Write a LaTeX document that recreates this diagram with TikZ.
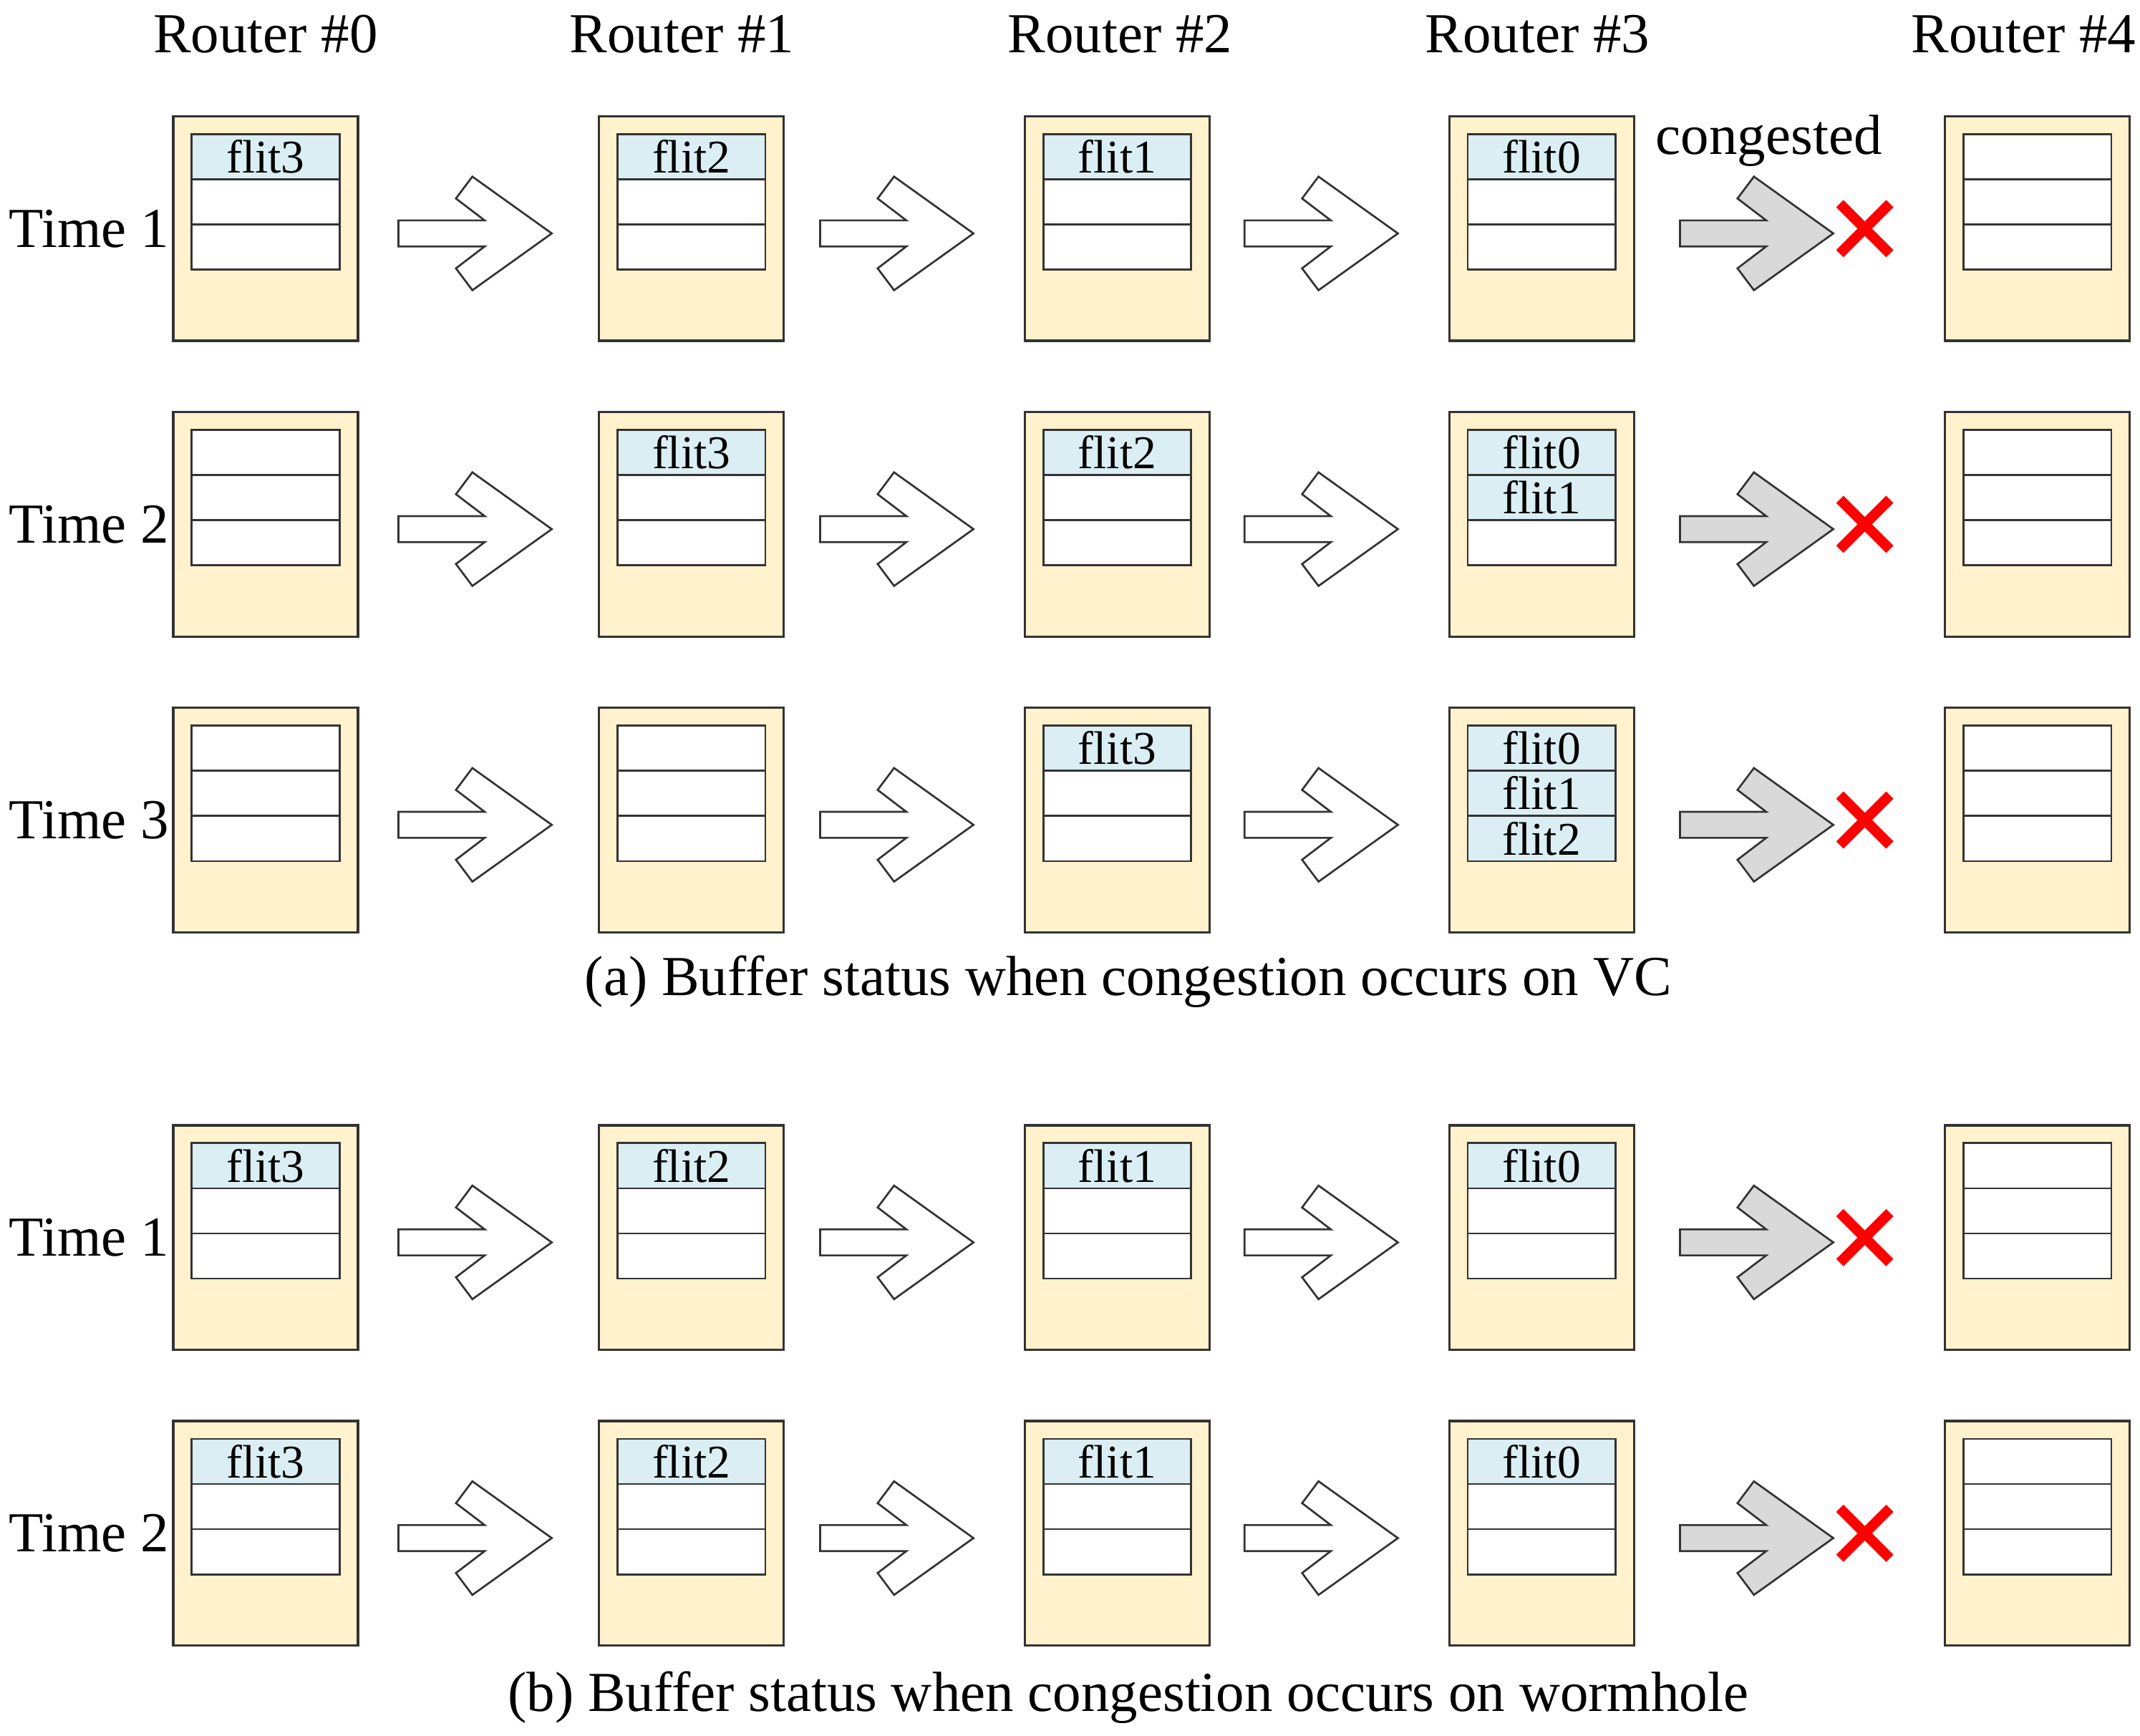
\documentclass[tikz,border=0pt]{standalone}
\usepackage{fontspec}
\setmainfont{Liberation Serif}
\usetikzlibrary{positioning, shapes.misc}
\definecolor{routerfill}{HTML}{FFF2CC}
\definecolor{flitfill}{HTML}{DAEEF3}
\definecolor{arrowgray}{HTML}{D9D9D9}
\tikzset{
	router/.style={
		draw=black!80, line width=1pt, fill=routerfill,
		minimum width=2.7cm, minimum height=3.28cm, inner sep=0pt
	},
	slot/.style={
		draw=black!80, line width=0.8pt, fill=white,
		minimum width=2.16cm, minimum height=0.66cm, inner sep=0pt,
		font=\fontsize{19.5}{21}\selectfont
	},
	flit/.style={slot, fill=flitfill},
	hop/.pic={
		\draw[line width=0.8pt, draw=black!80, fill=#1, line join=miter]
			(0,-9.5) -- (63,-9.5) -- (42,-25.5) -- (54,-41.5) -- (112,0)
			-- (54,41.5) -- (42,25.5) -- (63,9.5) -- (0,9.5) -- cycle;
	},
	stop/.style={cross out, draw=red, line width=0.15cm, minimum size=0.58cm, inner sep=0pt},
	labe/.style={font=\fontsize{23.5}{27}\selectfont}
}
\begin{document}
\begin{tikzpicture}[x=0.02cm, y=-0.02cm]
	\useasboundingbox (0,0) rectangle (1563,1268);
	% router headings
	\foreach \c/\x in {0/194, 1/498, 2/818, 3/1123, 4/1478}
		\node[labe] (head-\c) at (\x,25) {Router \#\c};
	% rows of routers and buffers
	\foreach \row/\y/\lab in {a1/167/Time 1, a2/383/Time 2, a3/599/Time 3, b1/904/Time 1, b2/1120/Time 2}{
		\node[labe] (time-\row) at (65,\y) {\lab};
		\foreach \c/\x in {0/194, 1/505, 2/816, 3/1126, 4/1488}{
			\node[router] (\row-\c) at (\x,\y) {};
			\foreach \s/\dy in {0/-52.5, 1/-19.5, 2/13.5}
				\node[slot] (\row-\c-s\s) at (\x,\y+\dy) {};
		}
		\foreach \c/\x in {0/291, 1/599, 2/909}
			\pic at (\x,\y+3.5) {hop=white};
		\pic at (1227,\y+3.5) {hop=arrowgray};
		\node[stop] (stop-\row) at (1362,\y) {};
	}
	% occupied buffer slots
	\foreach \row/\c/\s/\f in {a1/0/0/flit3, a1/1/0/flit2, a1/2/0/flit1, a1/3/0/flit0,
		a2/1/0/flit3, a2/2/0/flit2, a2/3/0/flit0, a2/3/1/flit1,
		a3/2/0/flit3, a3/3/0/flit0, a3/3/1/flit1, a3/3/2/flit2,
		b1/0/0/flit3, b1/1/0/flit2, b1/2/0/flit1, b1/3/0/flit0,
		b2/0/0/flit3, b2/1/0/flit2, b2/2/0/flit1, b2/3/0/flit0}
		\node[flit] at (\row-\c-s\s) {\f};
	\node[labe] (cong) at (1292,103) {congested};
	% captions
	\node[labe] (cap-a) at (824,717) {(a) Buffer status when congestion occurs on VC};
	\node[labe] (cap-b) at (824,1240) {(b) Buffer status when congestion occurs on wormhole};
\end{tikzpicture}
\end{document}
